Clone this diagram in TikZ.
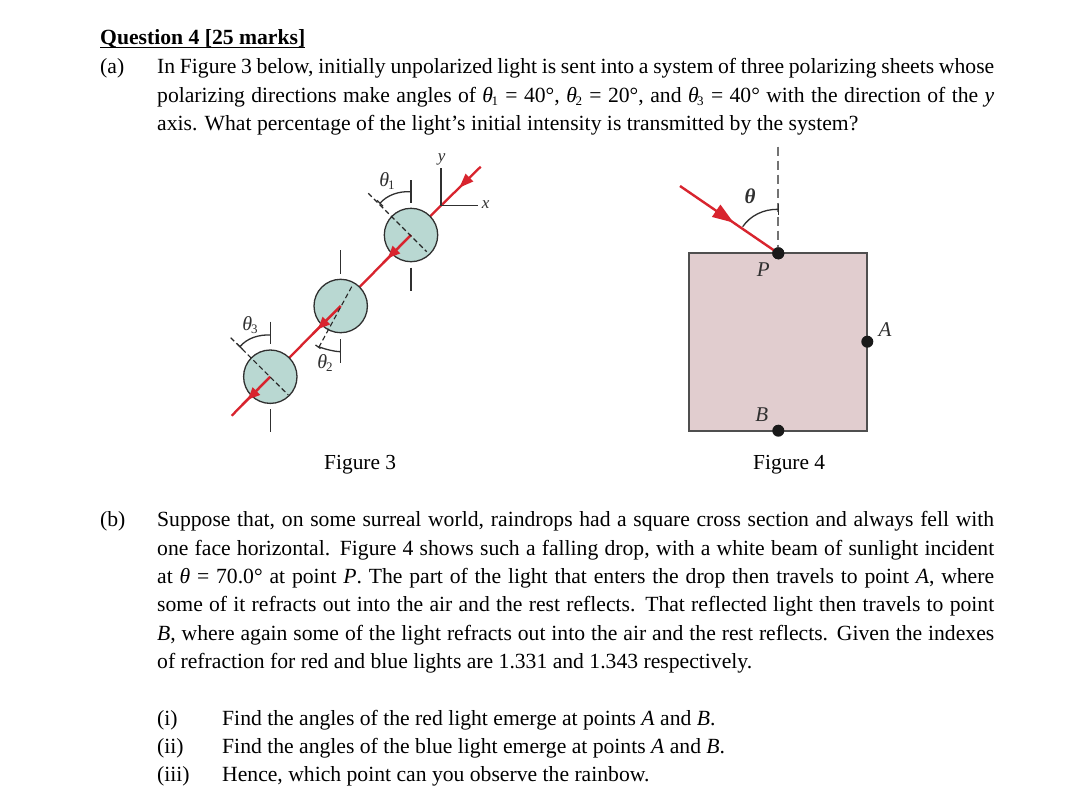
\documentclass[tikz,border=0pt]{standalone}
\usepackage{fontspec}
\setmainfont{Liberation Serif}
\definecolor{ray}{HTML}{D8242E}
\definecolor{disk}{HTML}{B9D8D2}
\definecolor{block}{HTML}{E1CDCF}
\definecolor{ink}{HTML}{303030}
\newcommand{\thsub}[1]{\textit{θ}\kern-1.5pt\raisebox{-3pt}{\fontsize{13}{13}\selectfont #1}\kern1pt\relax}
\newcommand{\jl}[1]{\hbox to 837pt{\spaceskip=0.25em plus 1em minus 0.08em\relax #1}}
\tikzset{
  txt/.style={anchor=base west,inner sep=0pt,font=\fontsize{21.65}{24}\selectfont,text=black},
  lab/.style={inner sep=0pt,font=\fontsize{20}{22}\selectfont\itshape,text=ink},
  beam/.style={draw=ray,line width=2.3pt},
  pol/.style={draw=ink,line width=1.3pt,fill=disk},
  tick/.style={draw=ink,line width=1.3pt},
  axisdash/.style={draw=black!85,line width=1.1pt,dash pattern=on 5pt off 3pt},
  dotb/.style={circle,fill=black!90,inner sep=0pt,minimum size=12pt},
}
\begin{document}
\begin{tikzpicture}[x=1pt,y=-1pt]
\useasboundingbox[fill=white] (0,0) rectangle (1080,809);
% header and text
\node[txt,font=\fontsize{21.65}{24}\selectfont\bfseries] (q) at (100,44) {Question 4 [25 marks]};
\draw[black,line width=1.4pt] (100,47.5) -- (305,47.5);
\node[txt] (a) at (100,73) {(a)};
\node[txt] (a1) at (157,73) {\jl{In Figure 3 below, initially unpolarized light is sent into a system of three polarizing sheets whose}};
\node[txt] (a2) at (157,102) {\jl{polarizing directions make angles of \thsub{1} = 40°, \thsub{2} = 20°, and \thsub{3} = 40° with the direction of the \textit{y}}};
\node[txt] (a3) at (157,130) {axis. What percentage of the light’s initial intensity is transmitted by the system?};
\node[txt,font=\fontsize{21.4}{24}\selectfont] (f3) at (324,469) {Figure 3};
\node[txt,font=\fontsize{21.4}{24}\selectfont] (f4) at (753,469) {Figure 4};
\node[txt] (b) at (100,526) {(b)};
\node[txt] (b1) at (157,526) {\jl{Suppose that, on some surreal world, raindrops had a square cross section and always fell with}};
\node[txt] (b2) at (157,555) {\jl{one face horizontal. Figure 4 shows such a falling drop, with a white beam of sunlight incident}};
\node[txt] (b3) at (157,583) {\jl{at \textit{θ} = 70.0° at point \textit{P}. The part of the light that enters the drop then travels to point \textit{A}, where}};
\node[txt] (b4) at (157,611) {\jl{some of it refracts out into the air and the rest reflects. That reflected light then travels to point}};
\node[txt] (b5) at (157,640) {\jl{\textit{B}, where again some of the light refracts out into the air and the rest reflects. Given the indexes}};
\node[txt] (b6) at (157,668) {of refraction for red and blue lights are 1.331 and 1.343 respectively.};
\node[txt] (i) at (157,725) {(i)};
\node[txt] (i1) at (222,725) {Find the angles of the red light emerge at points \textit{A} and \textit{B}.};
\node[txt] (ii) at (157,753) {(ii)};
\node[txt] (ii1) at (222,753) {Find the angles of the blue light emerge at points \textit{A} and \textit{B}.};
\node[txt] (iii) at (157,781) {(iii)};
\node[txt] (iii1) at (222,781) {Hence, which point can you observe the rainbow.};
% Figure 3
\coordinate (c1) at (411,235);
\coordinate (c2) at (340.7,306);
\coordinate (c3) at (270.3,376.7);
\coordinate (s) at (480.7,166.7);
\coordinate (e) at (231.7,415.7);
\draw[beam] (s) -- (c1);
\draw[pol] (c1) circle (26.7);
\draw[beam] (c1) -- (c2);
\draw[pol] (c2) circle (26.7);
\draw[beam] (c2) -- (c3);
\draw[pol] (c3) circle (26.7);
\draw[beam] (c3) -- (e);
\draw[beam,draw opacity=.75] (c1) -- ++(-21,21);
\draw[beam,draw opacity=.75] (c2) -- ++(-21,21);
\draw[beam,draw opacity=.75] (c3) -- ++(-21,21);
\draw[beam] (c1) ++(-16,16) -- ++(-12,12);
\draw[beam] (c2) ++(-16,16) -- ++(-12,12);
\draw[beam] (c3) ++(-16,16) -- ++(-12,12);
\fill[ray,shift={(459.5,187.5)},rotate=225] (0,0) -- (-14,5.5) -- (-14,-5.5) -- cycle;
\fill[ray,shift={(388,258)},rotate=225] (0,0) -- (-12,5.5) -- (-12,-5.5) -- cycle;
\fill[ray,shift={(318,329)},rotate=225] (0,0) -- (-12,5.5) -- (-12,-5.5) -- cycle;
\fill[ray,shift={(248,399.5)},rotate=225] (0,0) -- (-12,5.5) -- (-12,-5.5) -- cycle;
% ticks
\draw[tick] (411,180) -- (411,203.3) (411,267.7) -- (411,290.7);
\draw[tick] (340.7,250) -- (340.7,274.3) (340.7,339) -- (340.7,363.3);
\draw[tick] (270.3,321.7) -- (270.3,344.3) (270.3,409) -- (270.3,431.7);
% polarizing directions
\draw[axisdash] (368.3,193.3) -- (426.7,251.7);
\draw[axisdash] (351.7,286.7) -- (318.3,348.3);
\draw[axisdash] (230.7,337.7) -- (288.3,395);
% angle arcs
\draw[tick] (380,203.3) .. controls (387,195) and (399,191) .. (411,191.7);
\draw[tick] (318.3,346.7) .. controls (325,349) and (333,351.5) .. (340.7,351.7);
\draw[tick] (240,346.7) .. controls (247,338) and (259,334.5) .. (270.3,335);
\draw[tick] (377,200.3) -- (383,206.3);
\draw[tick] (315.5,345) -- (320.5,348.5);
\draw[tick] (237,343.7) -- (243,349.7);
\node[lab] (t1) at (387,181) {θ\kern-1pt\raisebox{-3pt}{\fontsize{13}{13}\selectfont\upshape 1}};
\node[lab] (t2) at (325,363.5) {θ\kern-1pt\raisebox{-3pt}{\fontsize{13}{13}\selectfont\upshape 2}};
\node[lab] (t3) at (250,325) {θ\kern-1pt\raisebox{-3pt}{\fontsize{13}{13}\selectfont\upshape 3}};
% axes
\coordinate (o) at (441,205.7);
\draw[tick] (441,168.3) -- (o) -- (478.3,205.7);
\node[lab,font=\fontsize{17}{19}\selectfont\itshape] (ly) at (441.7,159) {y};
\node[lab,font=\fontsize{17}{19}\selectfont\itshape] (lx) at (485.7,205) {x};
% Figure 4
\draw[draw=ink!85,line width=1.9pt,fill=block] (689,252.7) rectangle (867.3,430.7);
\coordinate (top) at (778.3,146.7);
\coordinate (raystart) at (680,186);
\node[dotb] (P) at (778.3,253.3) {};
\node[dotb] (A) at (867.3,341.7) {};
\node[dotb] (B) at (778.3,430.7) {};
\draw[draw=black!55,line width=1.9pt,dash pattern=on 9pt off 5pt] (top) -- (P.center);
\draw[draw=ray,line width=2.4pt] (raystart) -- (P.center);
\node[dotb] at (P.center) {};
\fill[ray,shift={(733.5,222.6)},rotate=-34.4] (0,0) -- (-21,7.5) -- (-21,-7.5) -- cycle;
\draw[tick] (742.7,226.7) .. controls (750,216) and (763,209) .. (778.3,209.3);
\draw[tick] (778.3,203.5) -- (778.3,215);
\node[lab,font=\fontsize{21}{23}\selectfont\bfseries\itshape] (th) at (750,196.7) {θ};
\node[lab,font=\fontsize{21}{23}\selectfont\itshape] (lp) at (763.3,269.3) {P};
\node[lab,font=\fontsize{21}{23}\selectfont\itshape] (la) at (885,329.3) {A};
\node[lab,font=\fontsize{21}{23}\selectfont\itshape] (lb) at (761.7,415) {B};
\end{tikzpicture}
\end{document}
